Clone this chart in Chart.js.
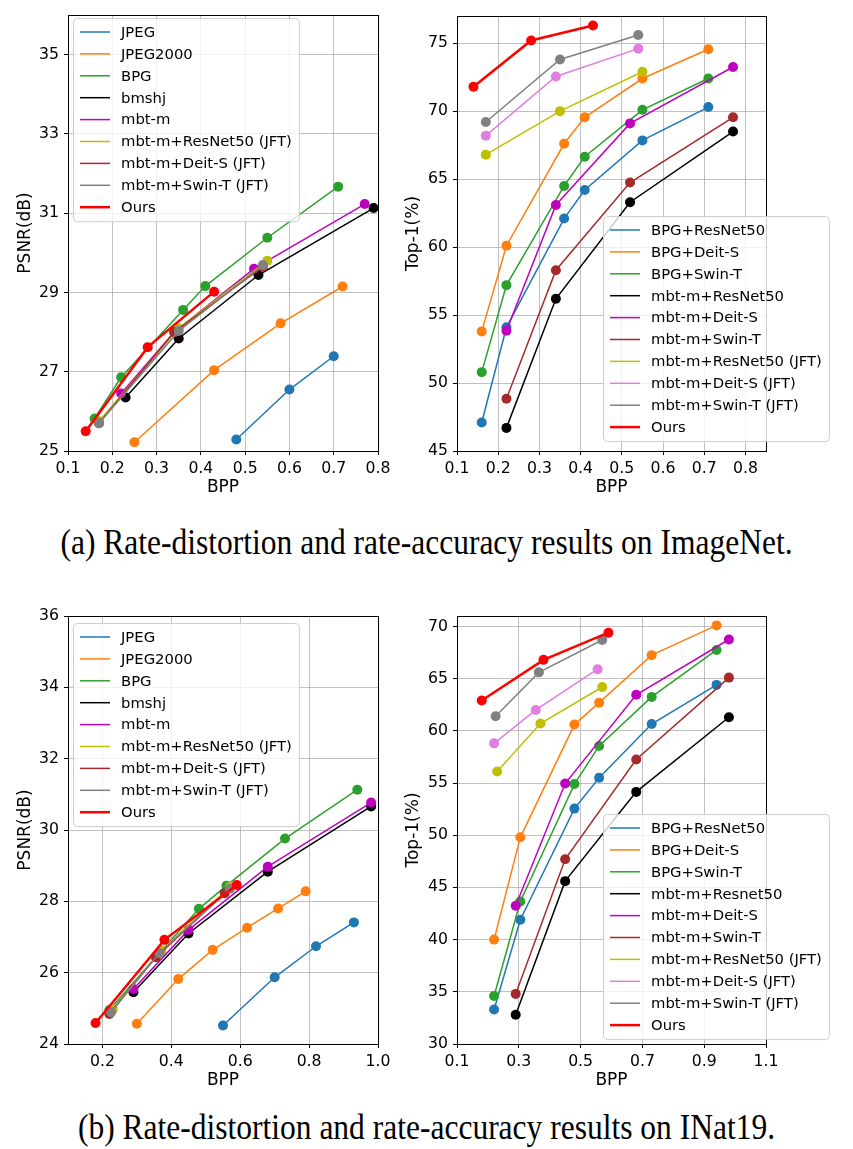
<!DOCTYPE html>
<html>
<head>
<meta charset="utf-8">
<script src="https://cdn.jsdelivr.net/npm/chart.js@4.4.0/dist/chart.umd.min.js"></script>
<style>
body { margin: 0; background: #fff; width: 853px; height: 1149px; position: relative; overflow: hidden; }
canvas { position: absolute; }
.cap { position: absolute; left: 0; width: 853px; text-align: center; font-family: "Liberation Serif", serif;
       font-size: 31.5px; line-height: 34px; color: #000; white-space: nowrap; transform: scaleY(1.12); }
</style>
</head>
<body>
<canvas id="c1" width="400" height="505" style="left:0;top:0"></canvas>
<canvas id="c2" width="453" height="505" style="left:400px;top:0"></canvas>
<canvas id="c3" width="400" height="500" style="left:0;top:600px"></canvas>
<canvas id="c4" width="453" height="500" style="left:400px;top:600px"></canvas>
<div class="cap" style="top:526px">(a) Rate-distortion and rate-accuracy results on ImageNet.</div>
<div class="cap" style="top:1111px">(b) Rate-distortion and rate-accuracy results on INat19.</div>
<script>
// ---- (a) ImageNet, PSNR vs BPP
const inJpegX = [0.48, 0.60, 0.70];
const inJpegY = [25.29, 26.55, 27.39];
const inJ2kX = [0.25, 0.43, 0.58, 0.72];
const inJ2kY = [25.22, 27.04, 28.22, 29.15];
const inBpgX = [0.16, 0.22, 0.36, 0.41, 0.55, 0.71];
const inBpgY = [25.82, 26.86, 28.56, 29.16, 30.38, 31.67];
const inBmshjX = [0.23, 0.35, 0.53, 0.79];
const inBmshjY = [26.35, 27.84, 29.44, 31.13];
const inMbtX = [0.22, 0.34, 0.52, 0.77];
const inMbtY = [26.45, 28.0, 29.6, 31.23];
const inRnJftX = [0.17, 0.35, 0.55];
const inRnJftY = [25.75, 28.1, 29.8];
const inDeJftX = [0.17, 0.34, 0.54];
const inDeJftY = [25.7, 28.0, 29.65];
const inSwJftX = [0.17, 0.35, 0.54];
const inSwJftY = [25.7, 28.03, 29.69];
const inOursX = [0.14, 0.28, 0.43];
const inOursY = [25.5, 27.62, 29.02];

// ---- (a) ImageNet, Top-1 vs BPP
const inAccBpgX = [0.16, 0.22, 0.36, 0.41, 0.55, 0.71];
const inAccBpgRn = [47.1, 54.1, 62.1, 64.2, 67.85, 70.3];
const inAccBpgDe = [53.8, 60.1, 67.6, 69.55, 72.4, 74.55];
const inAccBpgSw = [50.8, 57.2, 64.5, 66.65, 70.1, 72.4];
const inAccMbtX = [0.22, 0.34, 0.52, 0.77];
const inAccMbtRn = [46.7, 56.2, 63.3, 68.5];
const inAccMbtDe = [53.85, 63.1, 69.1, 73.25];
const inAccMbtSw = [48.85, 58.3, 64.75, 69.55];
const inAccRnJftX = [0.17, 0.35, 0.55];
const inAccRnJft = [66.8, 70.0, 72.9];
const inAccDeJftX = [0.17, 0.34, 0.54];
const inAccDeJft = [68.2, 72.55, 74.6];
const inAccSwJftX = [0.17, 0.35, 0.54];
const inAccSwJft = [69.2, 73.8, 75.6];
const inAccOursX = [0.14, 0.28, 0.43];
const inAccOurs = [71.8, 75.2, 76.3];

// ---- (b) INat19, PSNR vs BPP
const natJpegX = [0.55, 0.70, 0.82, 0.93];
const natJpegY = [24.52, 25.87, 26.74, 27.41];
const natJ2kX = [0.30, 0.42, 0.52, 0.62, 0.71, 0.79];
const natJ2kY = [24.57, 25.82, 26.64, 27.26, 27.8, 28.28];
const natBpgX = [0.22, 0.37, 0.48, 0.56, 0.73, 0.94];
const natBpgY = [24.95, 26.6, 27.79, 28.44, 29.76, 31.13];
const natBmshjX = [0.29, 0.45, 0.68, 0.98];
const natBmshjY = [25.45, 27.1, 28.83, 30.66];
const natMbtX = [0.29, 0.45, 0.68, 0.98];
const natMbtY = [25.54, 27.2, 28.97, 30.77];
const natRnJftX = [0.23, 0.37, 0.57];
const natRnJftY = [24.97, 26.62, 28.4];
const natDeJftX = [0.22, 0.355, 0.555];
const natDeJftY = [24.84, 26.43, 28.23];
const natSwJftX = [0.225, 0.365, 0.57];
const natSwJftY = [24.89, 26.55, 28.35];
const natOursX = [0.18, 0.38, 0.59];
const natOursY = [24.59, 26.92, 28.46];

// ---- (b) INat19, Top-1 vs BPP
const natAccBpgX = [0.22, 0.305, 0.48, 0.56, 0.73, 0.94];
const natAccBpgRn = [33.3, 41.9, 52.55, 55.5, 60.65, 64.4];
const natAccBpgDe = [40.0, 49.8, 60.6, 62.7, 67.25, 70.1];
const natAccBpgSw = [34.6, 43.65, 54.9, 58.55, 63.25, 67.75];
const natAccMbtX = [0.29, 0.45, 0.68, 0.98];
const natAccMbtRn = [32.8, 45.6, 54.15, 61.3];
const natAccMbtDe = [43.25, 54.95, 63.45, 68.75];
const natAccMbtSw = [34.8, 47.7, 57.25, 65.1];
const natAccRnJftX = [0.23, 0.37, 0.57];
const natAccRnJft = [56.1, 60.7, 64.2];
const natAccDeJftX = [0.22, 0.355, 0.555];
const natAccDeJft = [58.8, 62.0, 65.9];
const natAccSwJftX = [0.225, 0.365, 0.57];
const natAccSwJft = [61.4, 65.6, 68.7];
const natAccOursX = [0.18, 0.38, 0.59];
const natAccOurs = [62.9, 66.8, 69.4];

// tick values
const xTicksA = [0.1, 0.2, 0.3, 0.4, 0.5, 0.6, 0.7, 0.8];
const yTicksPsnrA = [25, 27, 29, 31, 33, 35];
const yTicksAccA = [45, 50, 55, 60, 65, 70, 75];
const xTicksPsnrB = [0.2, 0.4, 0.6, 0.8, 1.0];
const yTicksPsnrB = [24, 26, 28, 30, 32, 34, 36];
const xTicksAccB = [0.1, 0.3, 0.5, 0.7, 0.9, 1.1];
const yTicksAccB = [30, 35, 40, 45, 50, 55, 60, 65, 70];

const col = {
  blue: '#1f77b4', orange: '#ff7f0e', green: '#2ca02c', black: '#000000', magenta: '#bf00bf',
  olive: '#bfbf00', brown: '#a52a2a', pink: '#e07ee0', gray: '#808080', red: '#ff0000'
};
const FONT = 'DejaVu Sans';

function line(label, xs, ys, color, width) {
  return {
    label: label,
    data: xs.map((x, i) => ({ x: x, y: ys[i] })),
    borderColor: color, backgroundColor: color,
    borderWidth: width || 1.5,
    pointRadius: 5, pointHoverRadius: 5, pointBorderWidth: 0,
    showLine: true, clip: false
  };
}

// frame round the plot and a matplotlib-like legend box
const boxLegend = {
  id: 'boxLegend',
  afterDatasetsDraw(chart) {
    const a = chart.chartArea, ctx = chart.ctx;
    ctx.save();
    ctx.strokeStyle = '#000';
    ctx.lineWidth = 1;
    ctx.strokeRect(Math.round(a.left) + 0.5, Math.round(a.top) + 0.5,
                   Math.round(a.right - a.left), Math.round(a.bottom - a.top));
    ctx.restore();
  },
  afterDraw(chart, args, opts) {
    const ctx = chart.ctx, sets = chart.data.datasets;
    const rowH = 21.9, pad = 14;
    ctx.save();
    ctx.font = '14.8px "' + FONT + '"';
    let tw = 0;
    sets.forEach(d => { tw = Math.max(tw, ctx.measureText(d.label).width); });
    const w = 48 + tw + 7, h = pad * 2 + (sets.length - 1) * rowH;
    ctx.fillStyle = 'rgba(255,255,255,0.8)';
    ctx.strokeStyle = '#cccccc';
    ctx.lineWidth = 1;
    ctx.beginPath();
    ctx.roundRect(opts.x + 0.5, opts.y + 0.5, w, h, 4);
    ctx.fill();
    ctx.stroke();
    ctx.textBaseline = 'middle';
    sets.forEach((d, i) => {
      const y = opts.y + pad + i * rowH;
      ctx.strokeStyle = d.borderColor;
      ctx.lineWidth = d.borderWidth;
      ctx.beginPath();
      ctx.moveTo(opts.x + 7, y);
      ctx.lineTo(opts.x + 37, y);
      ctx.stroke();
      ctx.fillStyle = '#000';
      ctx.fillText(d.label, opts.x + 48, y + 1);
    });
    ctx.restore();
  }
};

function axis(min, max, ticks, title, digits, size, titlePad) {
  return {
    type: 'linear', min: min, max: max,
    afterBuildTicks: s => { s.ticks = ticks.map(v => ({ value: v })); },
    afterFit: s => { if (s.isHorizontal()) s.height = size; else s.width = size; },
    ticks: {
      font: { family: FONT, size: 15.7 }, color: '#000', padding: 5,
      autoSkip: false, maxRotation: 0,
      callback: v => v.toFixed(digits)
    },
    grid: { color: '#b0b0b0', lineWidth: 0.8, tickLength: 4, tickColor: '#000', tickWidth: 1 },
    border: { display: false },
    title: { display: true, text: title, font: { family: FONT, size: 17 }, color: '#000', padding: titlePad }
  };
}

function makeChart(id, sets, o) {
  sets.forEach((d, i) => { d.order = sets.length - i; });
  return new Chart(id, {
    type: 'scatter',
    data: { datasets: sets },
    options: {
      responsive: false, animation: false, devicePixelRatio: 1,
      layout: { padding: { left: 0, top: o.top, right: o.right, bottom: o.bottom } },
      plugins: { legend: { display: false }, tooltip: { enabled: false }, boxLegend: o.legend },
      scales: {
        x: axis(o.x[0], o.x[1], o.xTicks, 'BPP', 1, o.xSize, 3),
        y: axis(o.y[0], o.y[1], o.yTicks, o.yTitle, 0, o.ySize, o.yPad)
      }
    },
    plugins: [boxLegend]
  });
}

makeChart('c1', [
  line('JPEG', inJpegX, inJpegY, col.blue),
  line('JPEG2000', inJ2kX, inJ2kY, col.orange),
  line('BPG', inBpgX, inBpgY, col.green),
  line('bmshj', inBmshjX, inBmshjY, col.black),
  line('mbt-m', inMbtX, inMbtY, col.magenta),
  line('mbt-m+ResNet50 (JFT)', inRnJftX, inRnJftY, col.olive),
  line('mbt-m+Deit-S (JFT)', inDeJftX, inDeJftY, col.brown),
  line('mbt-m+Swin-T (JFT)', inSwJftX, inSwJftY, col.gray),
  line('Ours', inOursX, inOursY, col.red, 2.5)
], { x: [0.1, 0.8], xTicks: xTicksA, y: [25, 36], yTicks: yTicksPsnrA, yTitle: 'PSNR(dB)',
     top: 15, right: 22, bottom: 4, xSize: 50, ySize: 68, yPad: 15, legend: { x: 73, y: 18 } });

makeChart('c2', [
  line('BPG+ResNet50', inAccBpgX, inAccBpgRn, col.blue),
  line('BPG+Deit-S', inAccBpgX, inAccBpgDe, col.orange),
  line('BPG+Swin-T', inAccBpgX, inAccBpgSw, col.green),
  line('mbt-m+ResNet50', inAccMbtX, inAccMbtRn, col.black),
  line('mbt-m+Deit-S', inAccMbtX, inAccMbtDe, col.magenta),
  line('mbt-m+Swin-T', inAccMbtX, inAccMbtSw, col.brown),
  line('mbt-m+ResNet50 (JFT)', inAccRnJftX, inAccRnJft, col.olive),
  line('mbt-m+Deit-S (JFT)', inAccDeJftX, inAccDeJft, col.pink),
  line('mbt-m+Swin-T (JFT)', inAccSwJftX, inAccSwJft, col.gray),
  line('Ours', inAccOursX, inAccOurs, col.red, 2.5)
], { x: [0.1, 0.85], xTicks: xTicksA, y: [45, 77], yTicks: yTicksAccA, yTitle: 'Top-1(%)',
     top: 16, right: 87, bottom: 4, xSize: 50, ySize: 57, yPad: 3, legend: { x: 203, y: 216 } });

makeChart('c3', [
  line('JPEG', natJpegX, natJpegY, col.blue),
  line('JPEG2000', natJ2kX, natJ2kY, col.orange),
  line('BPG', natBpgX, natBpgY, col.green),
  line('bmshj', natBmshjX, natBmshjY, col.black),
  line('mbt-m', natMbtX, natMbtY, col.magenta),
  line('mbt-m+ResNet50 (JFT)', natRnJftX, natRnJftY, col.olive),
  line('mbt-m+Deit-S (JFT)', natDeJftX, natDeJftY, col.brown),
  line('mbt-m+Swin-T (JFT)', natSwJftX, natSwJftY, col.gray),
  line('Ours', natOursX, natOursY, col.red, 2.5)
], { x: [0.1, 1.0], xTicks: xTicksPsnrB, y: [24, 36], yTicks: yTicksPsnrB, yTitle: 'PSNR(dB)',
     top: 16, right: 22, bottom: 6, xSize: 50, ySize: 68, yPad: 15, legend: { x: 73, y: 23 } });

makeChart('c4', [
  line('BPG+ResNet50', natAccBpgX, natAccBpgRn, col.blue),
  line('BPG+Deit-S', natAccBpgX, natAccBpgDe, col.orange),
  line('BPG+Swin-T', natAccBpgX, natAccBpgSw, col.green),
  line('mbt-m+Resnet50', natAccMbtX, natAccMbtRn, col.black),
  line('mbt-m+Deit-S', natAccMbtX, natAccMbtDe, col.magenta),
  line('mbt-m+Swin-T', natAccMbtX, natAccMbtSw, col.brown),
  line('mbt-m+ResNet50 (JFT)', natAccRnJftX, natAccRnJft, col.olive),
  line('mbt-m+Deit-S (JFT)', natAccDeJftX, natAccDeJft, col.pink),
  line('mbt-m+Swin-T (JFT)', natAccSwJftX, natAccSwJft, col.gray),
  line('Ours', natAccOursX, natAccOurs, col.red, 2.5)
], { x: [0.1, 1.1], xTicks: xTicksAccB, y: [30, 71], yTicks: yTicksAccB, yTitle: 'Top-1(%)',
     top: 16, right: 87, bottom: 6, xSize: 50, ySize: 57, yPad: 3, legend: { x: 203, y: 214 } });
</script>
</body>
</html>
